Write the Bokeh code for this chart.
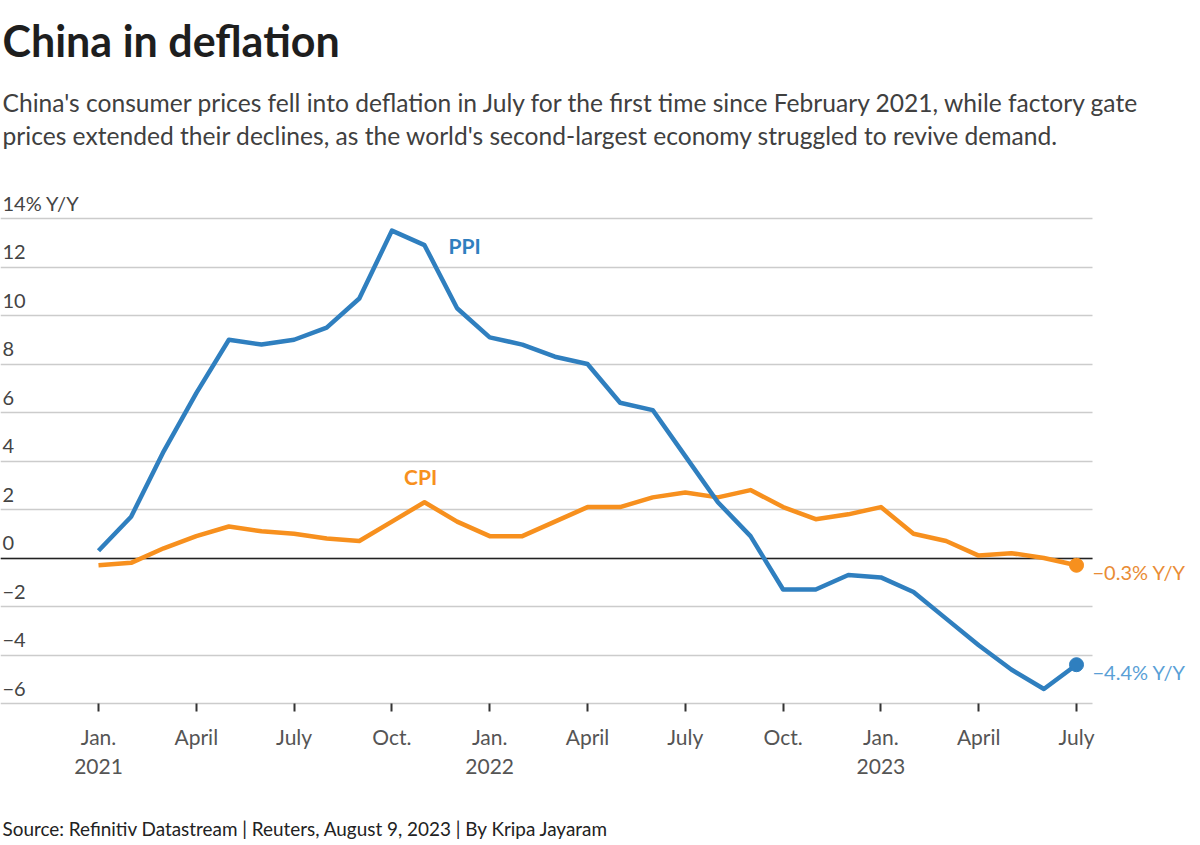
from bokeh.plotting import figure
from bokeh.models import ColumnDataSource, LabelSet, Label, FixedTicker, Grid
from bokeh.embed import file_html
from bokeh.resources import INLINE
from bokeh.core.properties import value

# ---- data ----
months = list(range(31))  # Jan 2021 .. Jul 2023
ppi = [0.3, 1.7, 4.4, 6.8, 9.0, 8.8, 9.0, 9.5, 10.7, 13.5, 12.9, 10.3,
       9.1, 8.8, 8.3, 8.0, 6.4, 6.1, 4.2, 2.3, 0.9, -1.3, -1.3, -0.7,
       -0.8, -1.4, -2.5, -3.6, -4.6, -5.4, -4.4]
cpi = [-0.3, -0.2, 0.4, 0.9, 1.3, 1.1, 1.0, 0.8, 0.7, 1.5, 2.3, 1.5,
       0.9, 0.9, 1.5, 2.1, 2.1, 2.5, 2.7, 2.5, 2.8, 2.1, 1.6, 1.8,
       2.1, 1.0, 0.7, 0.1, 0.2, 0.0, -0.3]
x_ticks = [0, 3, 6, 9, 12, 15, 18, 21, 24, 27, 30]
x_tick_labels = ["Jan.\n2021", "April", "July", "Oct.", "Jan.\n2022", "April",
                 "July", "Oct.", "Jan.\n2023", "April", "July"]
y_ticks = [-6, -4, -2, 0, 2, 4, 6, 8, 10, 12, 14]
y_tick_labels = ["\u22126", "\u22124", "\u22122", "0", "2", "4", "6", "8", "10", "12", "14% Y/Y"]

title = "China in deflation"
subtitle = ["China's consumer prices fell into deflation in July for the first time since February 2021, while factory gate",
            "prices extended their declines, as the world's second-largest economy struggled to revive demand."]
source_note = "Source: Refinitiv Datastream | Reuters, August 9, 2023 | By Kripa Jayaram"

BLUE = "#2f7fbf"
ORANGE = "#f7901e"
BLUE_T = "#5a9fd6"
ORANGE_T = "#e98c35"
FONT = "Lato"

W, H = 1200, 845
# pixel geometry: Jan 2021 at x=98, 32.6 px per month; y=-6 at 703, 24.25 px per unit
PX_M = 32.6
PX_U = 24.25
X0 = 98
Y_M6 = 703
x_lo = -X0 / PX_M
x_hi = (W - X0) / PX_M
x_grid_end = (1092 - X0) / PX_M
y_lo = -6 - (H - Y_M6) / PX_U
y_hi = -6 + Y_M6 / PX_U

p = figure(width=W, height=H, x_range=(x_lo, x_hi), y_range=(y_lo, y_hi),
           output_backend="svg", toolbar_location=None, y_axis_location=None,
           min_border_left=0, min_border_right=0, min_border_top=0, min_border_bottom=0)
p.outline_line_color = None
p.background_fill_color = "white"
p.border_fill_color = "white"
p.xgrid.visible = False
p.ygrid.ticker = FixedTicker(ticks=y_ticks)
p.ygrid.grid_line_color = "#cccccc"
p.ygrid.grid_line_width = 1.5
p.ygrid.cross_bounds = (x_lo, x_grid_end)

zero = Grid(dimension=1, ticker=FixedTicker(ticks=[0]), grid_line_color="#222222",
            grid_line_width=1.5, cross_bounds=(x_lo, x_grid_end))
p.add_layout(zero, "center")

ax = p.xaxis[0]
ax.fixed_location = y_ticks[0]
ax.ticker = FixedTicker(ticks=x_ticks)
ax.major_label_overrides = {t: l for t, l in zip(x_ticks, x_tick_labels)}
ax.axis_line_color = None
ax.major_tick_line_color = "#333333"
ax.major_tick_line_width = 2
ax.major_tick_in = 0
ax.major_tick_out = 8
ax.minor_tick_line_color = None
ax.major_label_standoff = 12
ax.major_label_text_font = FONT
ax.major_label_text_font_size = "21px"
ax.major_label_text_color = "#555555"
ax.major_label_text_line_height = 1.18

# y tick labels above grid lines
ysrc = ColumnDataSource(dict(y=y_ticks, text=y_tick_labels))
p.add_layout(LabelSet(x=2, y="y", text="text", source=ysrc, x_units="screen",
                      y_offset=8, text_baseline="alphabetic", text_align="left",
                      text_font=value(FONT), text_font_size="20px", text_color="#444444"))

# lines
p.line(months, cpi, line_width=4.5, color=ORANGE, line_join="round")
p.line(months, ppi, line_width=4.5, color=BLUE, line_join="round")
p.scatter([months[-1]], [cpi[-1]], size=14, color=ORANGE)
p.scatter([months[-1]], [ppi[-1]], size=14, color=BLUE)

def fmt(v):
    return ("%.1f" % v).replace("-", "\u2212") + "% Y/Y"

end_src = ColumnDataSource(dict(x=[months[-1], months[-1]], y=[cpi[-1], ppi[-1]],
                                text=[fmt(cpi[-1]), fmt(ppi[-1])], color=[ORANGE_T, BLUE_T]))
p.add_layout(LabelSet(x="x", y="y", text="text", source=end_src, x_offset=16, y_offset=-7,
                      text_baseline="middle", text_font=value(FONT), text_font_size="20px",
                      text_color="color"))

p.add_layout(Label(x=11.23, y=12.89, text="PPI", text_align="center", text_baseline="middle",
                   text_font=FONT, text_font_style="bold", text_font_size="21px",
                   text_color=BLUE))
p.add_layout(Label(x=9.88, y=3.36, text="CPI", text_align="center", text_baseline="middle",
                   text_font=FONT, text_font_style="bold", text_font_size="21px",
                   text_color=ORANGE))

# header / footer (screen units, origin at bottom-left of the canvas-sized frame)
def header(text, canvas_baseline, size, color, style="normal"):
    src = ColumnDataSource(dict(x=[2], y=[H - canvas_baseline], text=[text]))
    p.add_layout(LabelSet(x="x", y="y", text="text", source=src, x_units="screen", y_units="screen",
                          text_baseline="alphabetic", text_align="left", text_font=value(FONT),
                          text_font_size=size, text_font_style=style, text_color=color))

header(title, 56, "43px", "#1e1e1e", "bold")
header(subtitle[0], 111, "24.6px", "#404040")
header(subtitle[1], 144, "24.6px", "#404040")
header(source_note, 835, "18.9px", "#222222")

open("out.html", "w").write(file_html(p, INLINE))
